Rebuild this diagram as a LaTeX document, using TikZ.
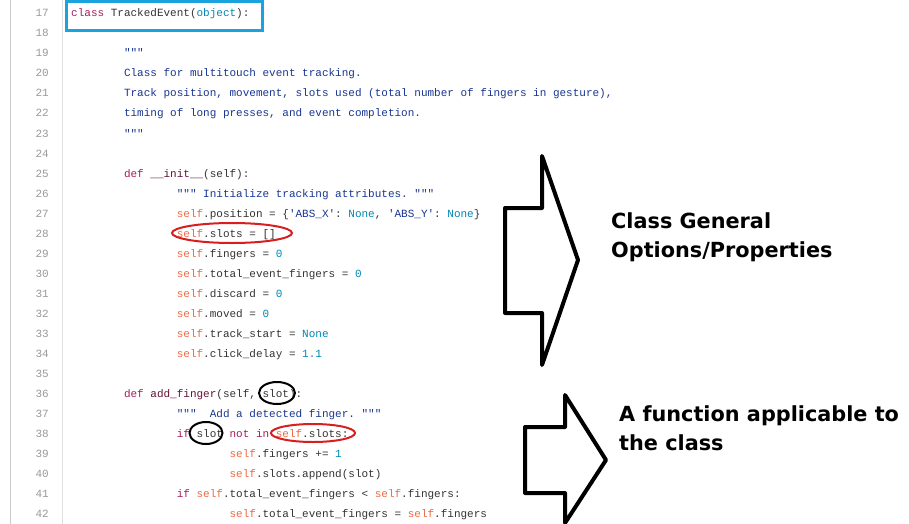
\documentclass[tikz,border=0pt]{standalone}
\usepackage{fontspec}
\usetikzlibrary{shapes.geometric}
\setmonofont{Liberation Mono}
\newfontfamily\labfont{DejaVu Sans}
\definecolor{kwc}{HTML}{A71D5D}
\definecolor{selfc}{HTML}{ED6A43}
\definecolor{numc}{HTML}{0086B3}
\definecolor{strc}{HTML}{183691}
\definecolor{txtc}{HTML}{333333}
\definecolor{lnc}{HTML}{999999}
\definecolor{boxc}{HTML}{1AA3DC}
\definecolor{ringred}{HTML}{D81E1E}
\newcommand\ckw[1]{\textcolor{kwc}{#1}}
\newcommand\cself{\textcolor{selfc}{self}}
\newcommand\cnum[1]{\textcolor{numc}{#1}}
\newcommand\cstr[1]{\textcolor{strc}{#1}}
\begin{document}
\begin{tikzpicture}[x=1pt,y=-1pt,
  codeline/.style={anchor=base west,inner sep=0pt,font=\fontsize{11pt}{13pt}\ttfamily,text=txtc},
  lnum/.style={anchor=base east,inner sep=0pt,font=\fontsize{11pt}{13pt}\ttfamily,text=lnc},
  ring/.style={ellipse,draw,line width=2pt,minimum width=#1},
  bigarrow/.style={draw=black,line width=4pt,line join=round},
  lab/.style={anchor=base west,inner sep=0pt,align=left,font=\fontsize{20.8pt}{29pt}\labfont\bfseries}]
\useasboundingbox (0,0) rectangle (909,524);
\fill[white] (0,0) rectangle (909,524);
\draw[gray!40,line width=1pt] (10,0) -- (10,524);
\draw[gray!25,line width=1pt] (62,0) -- (62,524);
\foreach \n in {17,...,42}{\node[lnum] (n\n) at (49,{17+(\n-17)*20}) {\n};}
\newcommand\cl[3]{\node[codeline] (l#1) at ({71+#2*6.6},{17+(#1-17)*20}) {#3};}
\cl{17}{0}{\ckw{class} TrackedEvent(\textcolor{numc}{object}):}
\cl{19}{8}{\cstr{"""}}
\cl{20}{8}{\cstr{Class for multitouch event tracking.}}
\cl{21}{8}{\cstr{Track position, movement, slots used (total number of fingers in gesture),}}
\cl{22}{8}{\cstr{timing of long presses, and event completion.}}
\cl{23}{8}{\cstr{"""}}
\cl{25}{8}{\ckw{def} \textcolor{kwc!60!black}{\_\_init\_\_}(self):}
\cl{26}{16}{\cstr{""" Initialize tracking attributes. """}}
\cl{27}{16}{\cself.position = \{\cstr{'ABS\_X'}: \cnum{None}, \cstr{'ABS\_Y'}: \cnum{None}\}}
\cl{28}{16}{\cself.slots = []}
\cl{29}{16}{\cself.fingers = \cnum{0}}
\cl{30}{16}{\cself.total\_event\_fingers = \cnum{0}}
\cl{31}{16}{\cself.discard = \cnum{0}}
\cl{32}{16}{\cself.moved = \cnum{0}}
\cl{33}{16}{\cself.track\_start = \cnum{None}}
\cl{34}{16}{\cself.click\_delay = \cnum{1.1}}
\cl{36}{8}{\ckw{def} \textcolor{kwc!60!black}{add\_finger}(self, slot):}
\cl{37}{16}{\cstr{"""\ \ Add a detected finger. """}}
\cl{38}{16}{\ckw{if} slot \ckw{not in} \cself.slots:}
\cl{39}{24}{\cself.fingers += \cnum{1}}
\cl{40}{24}{\cself.slots.append(slot)}
\cl{41}{16}{\ckw{if} \cself.total\_event\_fingers < \cself.fingers:}
\cl{42}{24}{\cself.total\_event\_fingers = \cself.fingers}
% blue box
\node[draw=boxc,line width=3pt,minimum width=196pt,minimum height=29pt,inner sep=0pt] (clsbox) at (164.5,16) {};
% rings
\node[ring=120pt,draw=ringred,minimum height=20pt] (r1) at (232,233) {};
\node[ring=84pt,draw=ringred,minimum height=18pt] (r2) at (313,433) {};
\node[ring=36pt,draw=black,minimum height=22pt] (b1) at (277,393) {};
\node[ring=33pt,draw=black,minimum height=22pt] (b2) at (206,433) {};
% big arrows
\draw[bigarrow] (505,208) -- (542,208) -- (542,156) -- (578,260) -- (542,365) -- (542,313) -- (505,313) -- cycle;
\draw[bigarrow] (525,427) -- (565,427) -- (565,395) -- (606,460) -- (565,523) -- (565,493) -- (525,493) -- cycle;
\node[lab] (t1) at (611,257) {Class General\\Options/Properties};
\node[lab] (t2) at (619,450) {A function applicable to\\the class};
\end{tikzpicture}
\end{document}
